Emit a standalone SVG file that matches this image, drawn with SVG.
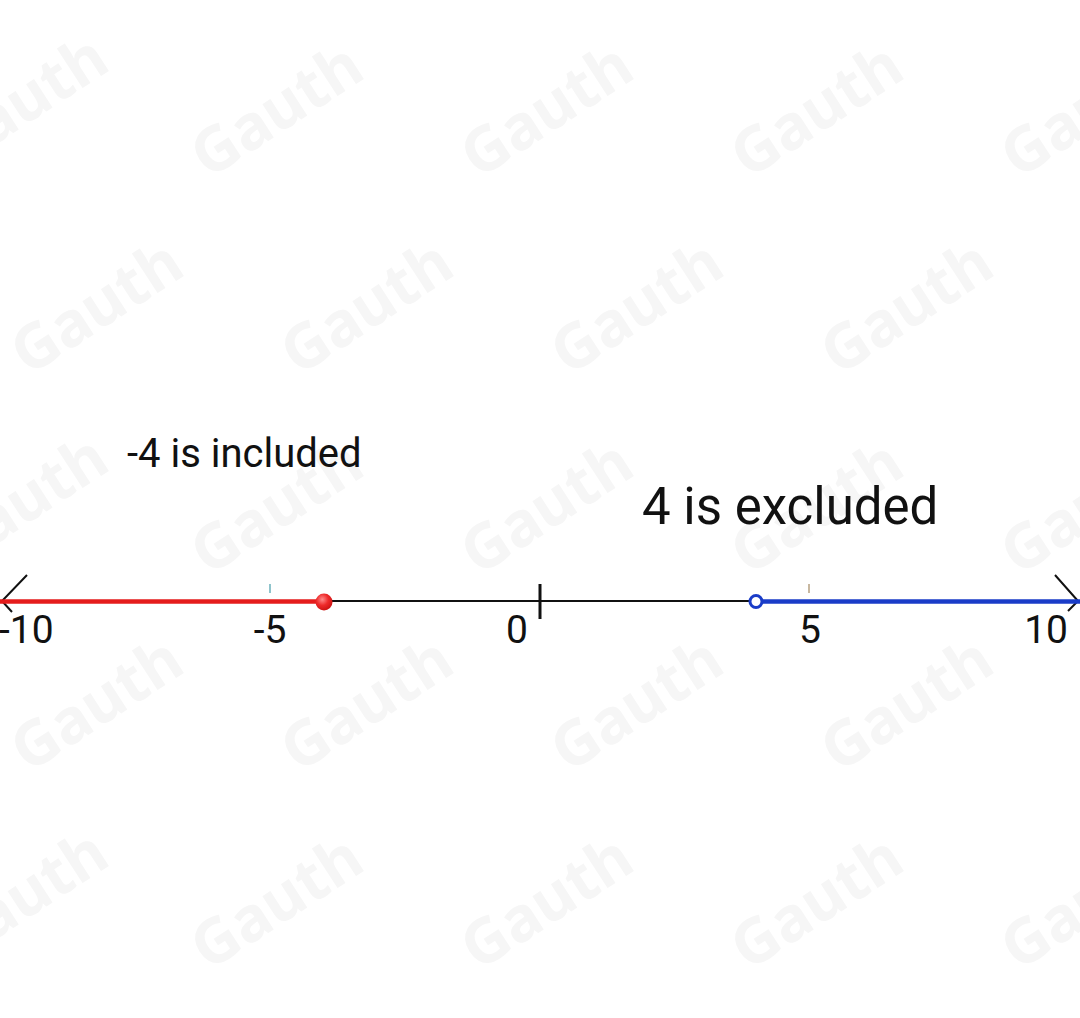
<svg xmlns="http://www.w3.org/2000/svg" width="1080" height="1018" viewBox="0 0 1080 1018">
<style>
.wm{font-family:"Noto Sans","DejaVu Sans",sans-serif;font-weight:700;font-size:62px;fill:#f6f6f6;text-anchor:middle;dominant-baseline:central}
.num{font-family:Roboto,"Liberation Sans",sans-serif;font-size:39px;fill:#111}
.note{font-family:Roboto,"Liberation Sans",sans-serif;fill:#111}
.axis{stroke:#111;stroke-width:2;fill:none}
</style>
<defs>
<radialGradient id="redDot" cx="0.4" cy="0.35" r="0.7">
<stop offset="0" stop-color="#ff8a8a"/>
<stop offset="0.5" stop-color="#ee2a2a"/>
<stop offset="1" stop-color="#c81010"/>
</radialGradient>
</defs>
<rect width="1080" height="1018" fill="#fff"/>
<g id="watermarks">
<text class="wm" x="20" y="100" transform="rotate(-33 20 100)">Gauth</text>
<text class="wm" x="275" y="108" transform="rotate(-33 275 108)">Gauth</text>
<text class="wm" x="545" y="108" transform="rotate(-33 545 108)">Gauth</text>
<text class="wm" x="815" y="108" transform="rotate(-33 815 108)">Gauth</text>
<text class="wm" x="1085" y="108" transform="rotate(-33 1085 108)">Gauth</text>
<text class="wm" x="95" y="305" transform="rotate(-33 95 305)">Gauth</text>
<text class="wm" x="365" y="305" transform="rotate(-33 365 305)">Gauth</text>
<text class="wm" x="635" y="305" transform="rotate(-33 635 305)">Gauth</text>
<text class="wm" x="905" y="305" transform="rotate(-33 905 305)">Gauth</text>
<text class="wm" x="20" y="500" transform="rotate(-33 20 500)">Gauth</text>
<text class="wm" x="275" y="505" transform="rotate(-33 275 505)">Gauth</text>
<text class="wm" x="545" y="505" transform="rotate(-33 545 505)">Gauth</text>
<text class="wm" x="815" y="505" transform="rotate(-33 815 505)">Gauth</text>
<text class="wm" x="1085" y="505" transform="rotate(-33 1085 505)">Gauth</text>
<text class="wm" x="95" y="702" transform="rotate(-33 95 702)">Gauth</text>
<text class="wm" x="365" y="702" transform="rotate(-33 365 702)">Gauth</text>
<text class="wm" x="635" y="702" transform="rotate(-33 635 702)">Gauth</text>
<text class="wm" x="905" y="702" transform="rotate(-33 905 702)">Gauth</text>
<text class="wm" x="20" y="895" transform="rotate(-33 20 895)">Gauth</text>
<text class="wm" x="275" y="900" transform="rotate(-33 275 900)">Gauth</text>
<text class="wm" x="545" y="900" transform="rotate(-33 545 900)">Gauth</text>
<text class="wm" x="815" y="900" transform="rotate(-33 815 900)">Gauth</text>
<text class="wm" x="1085" y="900" transform="rotate(-33 1085 900)">Gauth</text>
</g>
<g id="axis">
<line class="axis" x1="0" y1="601" x2="1080" y2="601"/>
<polyline class="axis" points="27,575 2,601 12,612"/>
<polyline class="axis" points="1055,575 1078,601 1068,611"/>
<line x1="540" y1="584" x2="540" y2="619" stroke="#111" stroke-width="3"/>
<line x1="270" y1="584" x2="270" y2="593" stroke="#8fc4cc" stroke-width="2"/>
<line x1="809" y1="584" x2="809" y2="593" stroke="#c8b8a0" stroke-width="2"/>
</g>
<g id="connectors">
<line id="red-ray" x1="0" y1="601.5" x2="324" y2="601.5" stroke="#e51c1c" stroke-width="4.5"/>
<line id="blue-ray" x1="756" y1="601.5" x2="1080" y2="601.5" stroke="#1a3cc8" stroke-width="4.5"/>
</g>
<g id="point-neg4"><circle cx="324" cy="602" r="8.5" fill="url(#redDot)"/></g>
<g id="point-4"><circle cx="756" cy="601.5" r="6" fill="#fff" stroke="#1a3cc8" stroke-width="3"/></g>
<g id="tick-labels">
<text class="num" x="-1" y="643">-10</text>
<text class="num" x="270" y="643" text-anchor="middle">-5</text>
<text class="num" x="517" y="643" text-anchor="middle">0</text>
<text class="num" x="810" y="643" text-anchor="middle">5</text>
<text class="num" x="1068" y="643" text-anchor="end">10</text>
</g>
<g id="label-included"><text class="note" x="127" y="467" font-size="40">-4 is included</text></g>
<g id="label-excluded"><text class="note" x="642" y="524" font-size="51">4 is excluded</text></g>
</svg>
